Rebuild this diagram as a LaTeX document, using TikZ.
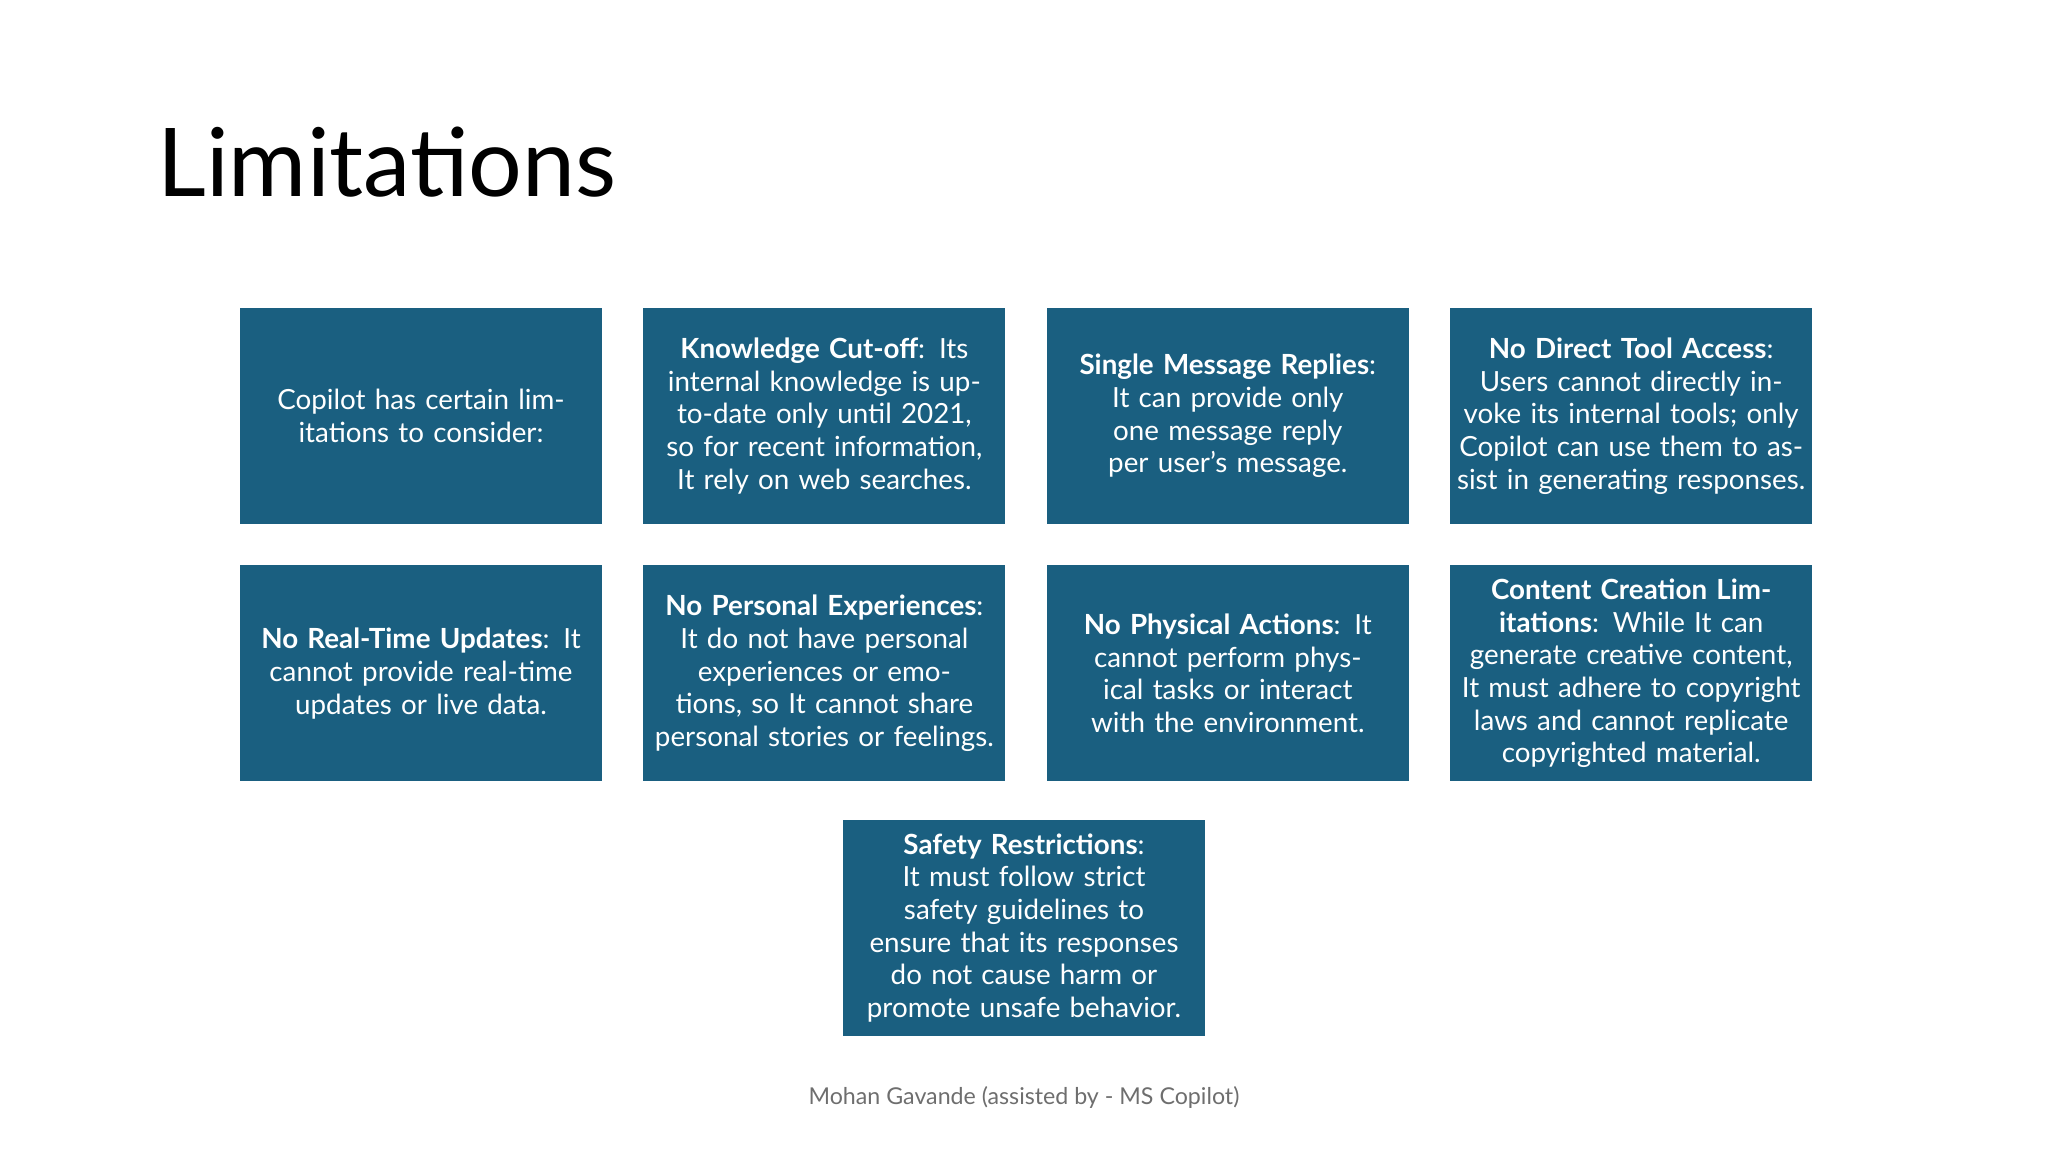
\documentclass[tikz,border=0pt]{standalone}
\usepackage{fontspec}
\setmainfont{Lato}
\usetikzlibrary{positioning}
\definecolor{boxblue}{HTML}{1A5F80}
\definecolor{footgray}{HTML}{6E6E6E}
\tikzset{
  limbox/.style={rectangle, fill=boxblue, text=white, minimum width=3.62cm, minimum height=2.16cm,
    text width=3.5cm, align=center, inner sep=0.05cm, font=\fontsize{7.9}{9.3}\selectfont},
}
\begin{document}
\begin{tikzpicture}[node distance=0.4cm and 0.4cm]
\useasboundingbox (0,0) rectangle (20.48,11.52);
% title
\node[anchor=west, font=\fontsize{27}{30}\selectfont] (title) at (1.45,9.9) {Limitations};
% first row
\node[limbox] (intro) at (4.21,7.36) {Copilot has certain limitations to consider:};
\node[limbox, right=of intro] (cutoff) {\textbf{Knowledge Cut-off}: Its internal knowledge is up-to-date only until 2021, so for recent information, It rely on web searches.};
\node[limbox, right=of cutoff] (single) {\textbf{Single Message Replies}: It can provide only one message reply per user’s message.};
\node[limbox, right=of single] (tools) {\textbf{No Direct Tool Access}: Users cannot directly invoke its internal tools; only Copilot can use them to assist in generating responses.};
% second row
\node[limbox, below=of intro] (realtime) {\textbf{No Real-Time Updates}: It cannot provide real-time updates or live data.};
\node[limbox, right=of realtime] (personal) {\textbf{No Personal Experiences}: It do not have personal experiences or emotions, so It cannot share personal stories or feelings.};
\node[limbox, right=of personal] (physical) {\textbf{No Physical Actions}: It cannot perform physical tasks or interact with the environment.};
\node[limbox, right=of physical] (content) {\textbf{Content Creation Limitations}: While It can generate creative content, It must adhere to copyright laws and cannot replicate copyrighted material.};
% third row
\node[limbox] (safety) at (10.24,2.24) {\textbf{Safety Restrictions}: It must follow strict safety guidelines to ensure that its responses do not cause harm or promote unsafe behavior.};
% footer
\node[text=footgray, font=\fontsize{6.6}{8}\selectfont] (footer) at (10.24,0.54) {Mohan Gavande (assisted by - MS Copilot)};
\end{tikzpicture}
\end{document}
